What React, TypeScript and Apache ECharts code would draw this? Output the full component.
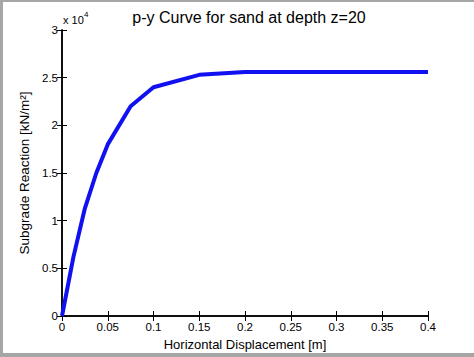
import React, { useEffect, useRef } from "react";
import * as echarts from "echarts";

const displacement = [0, 0.0125, 0.025, 0.0375, 0.05, 0.075, 0.1, 0.15, 0.2, 0.4];
const reaction = [0, 6200, 11300, 15000, 18000, 22000, 24000, 25300, 25600, 25600];
const xTicks = [0, 0.05, 0.1, 0.15, 0.2, 0.25, 0.3, 0.35, 0.4];
const yTicks = [0, 0.5, 1, 1.5, 2, 2.5, 3];

const FONT = "'Liberation Sans', Arial, sans-serif";

export default function App() {
  const ref = useRef<HTMLDivElement>(null);
  useEffect(() => {
    if (!ref.current) return;
    const chart = echarts.init(ref.current, undefined, { renderer: "svg" });
    const axisLine = { show: true, lineStyle: { color: "#000", width: 1.5 } };
    const tickIn = { show: true, inside: true, length: 5, lineStyle: { color: "#000", width: 1 } };
    chart.setOption({
      animation: false,
      backgroundColor: "#fff",
      title: {
        text: "p-y Curve for sand at depth z=20",
        left: 244,
        textAlign: "center",
        top: 4,
        textStyle: { fontFamily: FONT, fontSize: 16, fontWeight: "normal", color: "#000" },
      },
      grid: { left: 62, top: 30, right: 46, bottom: 41, containLabel: false },
      xAxis: [
        {
          type: "value",
          min: 0,
          max: 0.4,
          interval: 0.05,
          axisLine,
          axisTick: tickIn,
          splitLine: { show: false },
          axisLabel: {
            color: "#000",
            fontFamily: FONT,
            fontSize: 11.5,
            margin: 5,
            formatter: (v: number) => {
              const t = xTicks.find((x) => Math.abs(x - v) < 1e-9);
              return t === undefined ? "" : String(t);
            },
          },
          name: "Horizontal Displacement [m]",
          nameLocation: "middle",
          nameGap: 22,
          nameTextStyle: { color: "#000", fontFamily: FONT, fontSize: 13 },
        },
        {
          type: "value",
          position: "top",
          min: 0,
          max: 0.4,
          interval: 0.05,
          axisLine,
          axisTick: tickIn,
          axisLabel: { show: false },
          splitLine: { show: false },
        },
      ],
      yAxis: [
        {
          type: "value",
          min: 0,
          max: 30000,
          interval: 5000,
          axisLine,
          axisTick: tickIn,
          splitLine: { show: false },
          axisLabel: {
            color: "#000",
            fontFamily: FONT,
            fontSize: 11.5,
            margin: 4,
            formatter: (v: number) => {
              const t = yTicks.find((y) => Math.abs(y * 10000 - v) < 1e-6);
              return t === undefined ? "" : String(t);
            },
          },
          name: "Subgrade Reaction [kN/m²]",
          nameLocation: "middle",
          nameGap: 25,
          nameRotate: 90,
          nameTextStyle: { color: "#000", fontFamily: FONT, fontSize: 13.5 },
        },
        {
          type: "value",
          position: "right",
          min: 0,
          max: 30000,
          interval: 5000,
          axisLine,
          axisTick: tickIn,
          axisLabel: { show: false },
          splitLine: { show: false },
        },
      ],
      graphic: [
        { type: "rect", shape: { x: 0, y: 0, width: 3, height: 357 }, style: { fill: "#a6a6a6" } },
        { type: "rect", shape: { x: 0, y: 0, width: 474, height: 2 }, style: { fill: "#a6a6a6" } },
        { type: "rect", shape: { x: 0, y: 353, width: 474, height: 4 }, style: { fill: "#a6a6a6" } },
        {
          type: "text",
          left: 63,
          top: 14,
          style: { text: "x 10", fill: "#000", fontFamily: FONT, fontSize: 11 },
        },
        {
          type: "text",
          left: 84,
          top: 10,
          style: { text: "4", fill: "#000", fontFamily: FONT, fontSize: 8 },
        },
      ],
      series: [
        {
          type: "line",
          data: displacement.map((d, i) => [d, reaction[i]]),
          showSymbol: false,
          symbol: "none",
          lineStyle: { color: "#1010f0", width: 4 },
          clip: true,
        },
      ],
    });
    return () => chart.dispose();
  }, []);
  return (
    <div
      ref={ref}
      style={{ width: 474, height: 357, position: "absolute", left: 0, top: 0 }}
    />
  );
}
